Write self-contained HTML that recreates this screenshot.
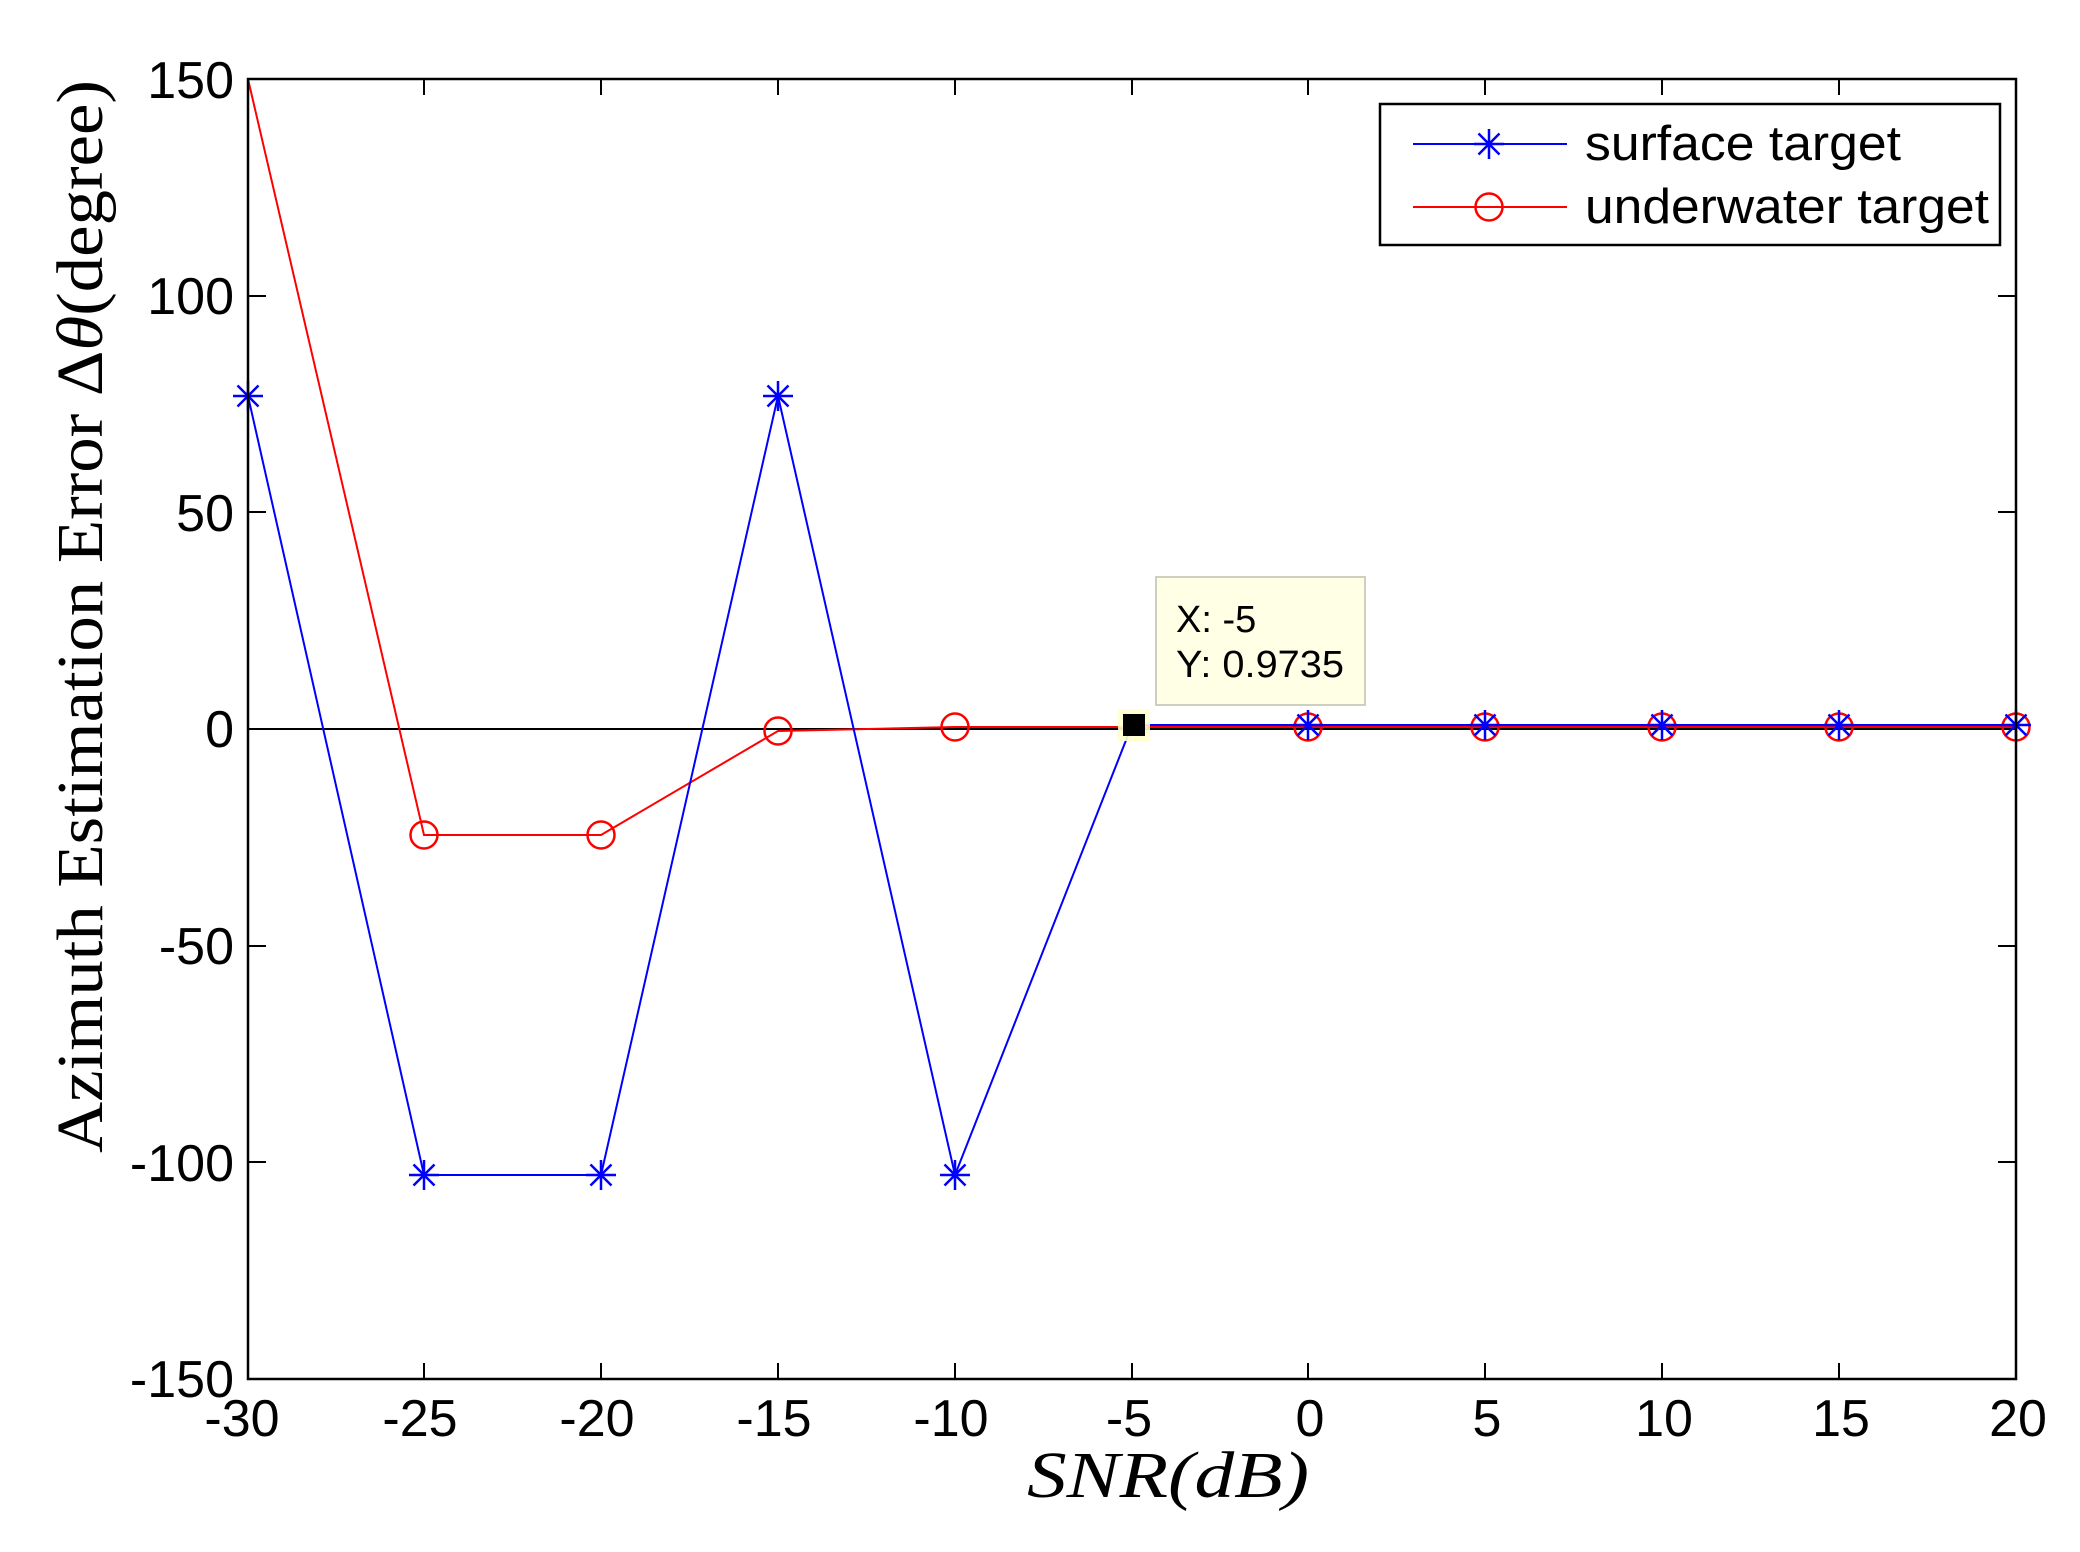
<!DOCTYPE html>
<html><head><meta charset="utf-8"><style>body{margin:0;background:#fff}svg{display:block}</style></head><body>
<svg width="2080" height="1552" viewBox="0 0 2080 1552" xmlns="http://www.w3.org/2000/svg">
<defs>
<g id="ast" stroke="#0000ff" stroke-width="2.5" fill="none"><path d="M-15 0H15M0-15V15M-10.5-10.5L10.5 10.5M-10.5 10.5L10.5-10.5"/></g>
<g id="cir"><circle r="13.5" stroke="#ff0000" stroke-width="2.5" fill="none"/></g>
</defs>
<rect width="2080" height="1552" fill="#fff"/>
<g stroke="#000" stroke-width="2">
<path d="M424 79v16M601 79v16M778 79v16M955 79v16M1132 79v16M1308 79v16M1485 79v16M1662 79v16M1839 79v16"/>
<path d="M424 1379v-16M601 1379v-16M778 1379v-16M955 1379v-16M1132 1379v-16M1308 1379v-16M1485 1379v-16M1662 1379v-16M1839 1379v-16"/>
<path d="M248 296h18M248 512h18M248 729h18M248 946h18M248 1162h18"/>
<path d="M2016 296h-18M2016 512h-18M2016 729h-18M2016 946h-18M2016 1162h-18"/>
</g>
<line x1="248" y1="729" x2="2016" y2="729" stroke="#000" stroke-width="2"/>
<polyline fill="none" stroke="#ff0000" stroke-width="2" points="248,79 424,835 601,835 778,731 955,727 1132,727 1308,727 1485,727 1662,727 1839,727 2016,727"/>
<polyline fill="none" stroke="#0000ff" stroke-width="2" points="248,396 424,1175 601,1175 778,396 955,1175 1132,725 1308,725 1485,725 1662,725 1839,725 2016,725"/>
<g>
<use href="#cir" x="424" y="835"/><use href="#cir" x="601" y="835"/><use href="#cir" x="778" y="731"/><use href="#cir" x="955" y="727"/>
<use href="#cir" x="1308" y="727"/><use href="#cir" x="1485" y="727"/><use href="#cir" x="1662" y="727"/><use href="#cir" x="1839" y="727"/><use href="#cir" x="2016" y="727"/>
</g>
<g>
<use href="#ast" x="248" y="396"/><use href="#ast" x="424" y="1175"/><use href="#ast" x="601" y="1175"/><use href="#ast" x="778" y="396"/><use href="#ast" x="955" y="1175"/>
<use href="#ast" x="1308" y="725"/><use href="#ast" x="1485" y="725"/><use href="#ast" x="1662" y="725"/><use href="#ast" x="1839" y="725"/><use href="#ast" x="2016" y="725"/>
</g>
<rect x="248" y="79" width="1768" height="1300" fill="none" stroke="#000" stroke-width="2.5"/>
<rect x="1118" y="709" width="32" height="32" fill="#ffffcc" opacity="0.9"/>
<rect x="1123" y="714" width="22" height="22" fill="#000"/>
<rect x="1156" y="577" width="209" height="128" fill="#ffffe6" stroke="#cfcfc0" stroke-width="2"/>
<g font-family="Liberation Sans, sans-serif" font-size="38" fill="#000">
<text x="1176" y="632">X: -5</text>
<text x="1176" y="677" textLength="168" lengthAdjust="spacingAndGlyphs">Y: 0.9735</text>
</g>
<rect x="1380" y="104" width="620" height="141" fill="#fff" stroke="#000" stroke-width="2.5"/>
<line x1="1413" y1="144" x2="1567" y2="144" stroke="#0000ff" stroke-width="2"/>
<use href="#ast" x="1489" y="144"/>
<line x1="1413" y1="207" x2="1567" y2="207" stroke="#ff0000" stroke-width="2"/>
<use href="#cir" x="1489" y="207"/>
<g font-family="Liberation Sans, sans-serif" font-size="49" fill="#000">
<text x="1585" y="160" textLength="316" lengthAdjust="spacingAndGlyphs">surface target</text>
<text x="1585" y="223" textLength="404" lengthAdjust="spacingAndGlyphs">underwater target</text>
</g>
<g font-family="Liberation Sans, sans-serif" font-size="52" fill="#000" text-anchor="end">
<text x="234" y="98">150</text><text x="234" y="314">100</text><text x="234" y="531">50</text>
<text x="234" y="747">0</text><text x="234" y="964">-50</text><text x="234" y="1181">-100</text><text x="234" y="1397">-150</text>
</g>
<g font-family="Liberation Sans, sans-serif" font-size="52" fill="#000" text-anchor="middle">
<text x="242" y="1436">-30</text><text x="420" y="1436">-25</text><text x="597" y="1436">-20</text><text x="774" y="1436">-15</text>
<text x="951" y="1436">-10</text><text x="1129" y="1436">-5</text><text x="1310" y="1436">0</text><text x="1487" y="1436">5</text>
<text x="1664" y="1436">10</text><text x="1841" y="1436">15</text><text x="2018" y="1436">20</text>
</g>
<text x="1027" y="1497" textLength="282" lengthAdjust="spacingAndGlyphs" font-family="Liberation Serif, serif" font-size="66" font-style="italic">SNR(dB)</text>
<text transform="translate(102,1153) rotate(-90)" textLength="1073" lengthAdjust="spacingAndGlyphs" font-family="Liberation Serif, serif" font-size="66">Azimuth Estimation Error Δ<tspan font-style="italic">θ</tspan>(degree)</text>
</svg>
</body></html>
